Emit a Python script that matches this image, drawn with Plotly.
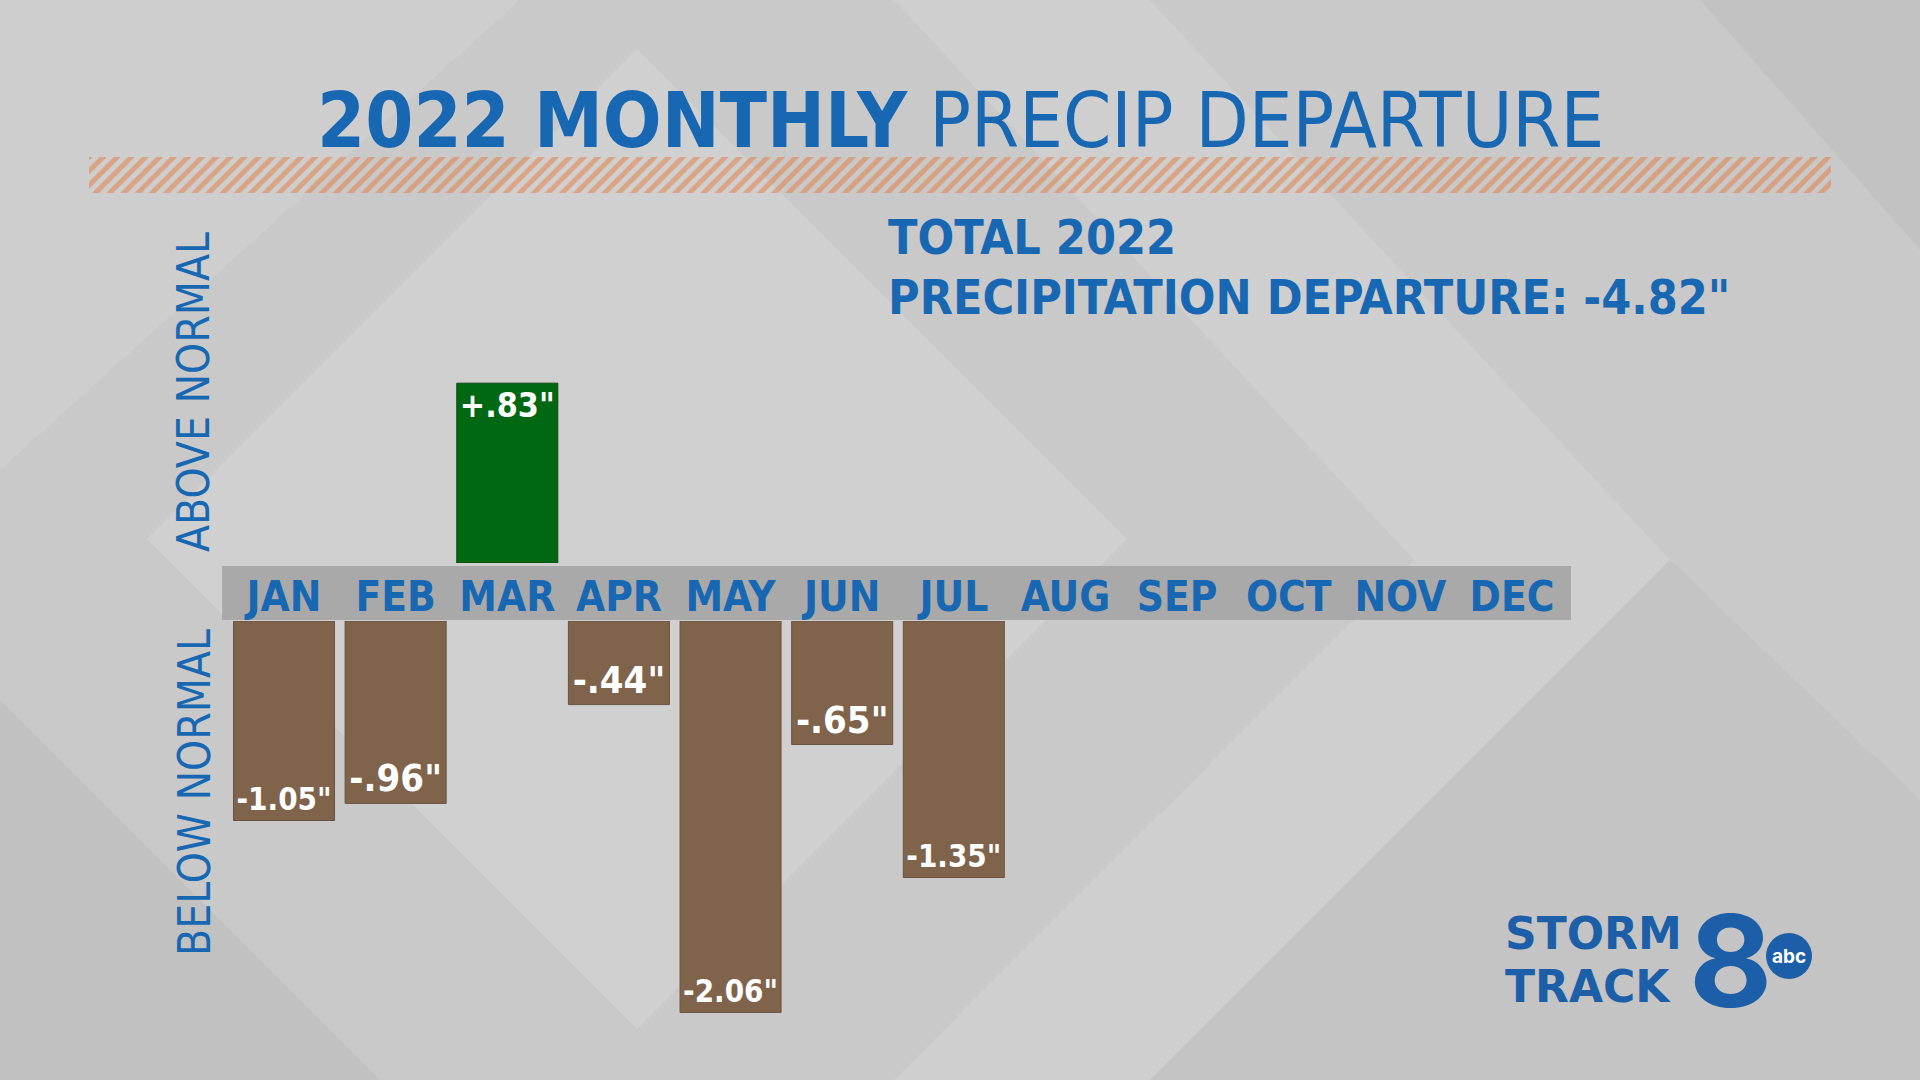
import plotly.graph_objects as go

# ---------------- data ----------------
months = ["JAN", "FEB", "MAR", "APR", "MAY", "JUN", "JUL", "AUG", "SEP", "OCT", "NOV", "DEC"]
departure = [-1.05, -0.96, 0.83, -0.44, -2.06, -0.65, -1.35, None, None, None, None, None]
total_departure = -4.82
title_bold = "2022 MONTHLY"
title_regular = "PRECIP DEPARTURE"
above_label = "ABOVE NORMAL"
below_label = "BELOW NORMAL"

# ---------------- style ----------------
W, H = 1920, 1080
BLUE = "#1767b3"
LOGO_BLUE = "#1c5ea8"
BROWN = "#80634b"
GREEN = "#006712"
BAND = "#a9a9a9"
ORANGE = "#e6773a"
NARROW = "'Liberation Sans Narrow', 'Arial Narrow', 'DejaVu Sans Condensed', 'Roboto', sans-serif"
LOGO = "'DejaVu Sans', Inter, Roboto, sans-serif"


def px(x):
    return x / W


def py(y):
    return 1 - y / H


def fmt(v):
    s = f"{abs(v):.2f}"
    if s.startswith("0"):
        s = s[1:]
    return ("+" if v > 0 else "-") + s + '"'


pos_vals = [v if (v is not None and v > 0) else None for v in departure]
neg_vals = [v if (v is not None and v < 0) else None for v in departure]
pos_text = [f"<b>{fmt(v)}</b>" if v is not None else "" for v in pos_vals]
neg_text = [f"<b>{fmt(v)}</b>" if v is not None else "" for v in neg_vals]

fig = go.Figure()

# positive departures (top panel)
fig.add_trace(go.Bar(
    x=months, y=pos_vals, text=pos_text, xaxis="x", yaxis="y",
    marker=dict(color=GREEN, line=dict(color="#0b4a12", width=1)),
    textposition="inside", insidetextanchor="end", textangle=0,
    insidetextfont=dict(color="white", size=38, family=NARROW),
    hoverinfo="skip", showlegend=False,
))

# negative departures (bottom panel)
fig.add_trace(go.Bar(
    x=months, y=neg_vals, text=neg_text, xaxis="x2", yaxis="y2",
    marker=dict(color=BROWN, line=dict(color="#6b5240", width=1)),
    textposition="inside", insidetextanchor="end", textangle=0,
    insidetextfont=dict(color="white", size=38, family=NARROW),
    hoverinfo="skip", showlegend=False,
))

# hatched orange stripe under the title
fig.add_trace(go.Bar(
    x=[1], y=[0], base=0, width=1, orientation="h", xaxis="x3", yaxis="y3",
    marker=dict(color="rgba(0,0,0,0)", line=dict(width=0),
                pattern=dict(shape="/", fgcolor=ORANGE, bgcolor="rgba(0,0,0,0)",
                             size=10, solidity=0.5)),
    hoverinfo="skip", showlegend=False,
))

xdom = [px(228.2), px(1567.8)]
hidden = dict(showgrid=False, zeroline=False, showline=False, showticklabels=False, ticks="")

fig.update_layout(
    width=W, height=H,
    margin=dict(l=0, r=0, t=0, b=0),
    paper_bgcolor="#c9c9c9",
    plot_bgcolor="rgba(0,0,0,0)",
    bargap=0.095,
    xaxis=dict(domain=xdom, anchor="y", type="category", range=[-0.5, 11.5], **hidden),
    yaxis=dict(domain=[py(563), py(303)], anchor="x", range=[0, 1.2], **hidden),
    xaxis2=dict(domain=xdom, anchor="free", position=py(634), type="category", range=[-0.5, 11.5],
                side="top", showgrid=False, zeroline=False, showline=False,
                ticks="outside", ticklen=6, tickcolor="rgba(0,0,0,0)",
                tickfont=dict(family=NARROW, size=42, color=BLUE, weight="bold"),
                fixedrange=True),
    yaxis2=dict(domain=[py(1058), py(621)], anchor="x2", range=[-2.3, 0], **hidden),
    xaxis3=dict(domain=[px(89), px(1831)], anchor="y3", range=[0, 1], **hidden),
    yaxis3=dict(domain=[py(193), py(157)], anchor="x3", range=[-0.5, 0.5], **hidden),
)


def poly(points):
    d = "M " + " L ".join(f"{px(x):.5f},{py(y):.5f}" for x, y in points) + " Z"
    return d


shapes = [
    # soft background chevrons
    dict(type="path", path=poly([(0, 0), (520, 0), (0, 470)]),
         fillcolor="rgba(255,255,255,0.10)", line=dict(width=0)),
    dict(type="path", path=poly([(147, 539), (637, 49), (1127, 539), (637, 1029)]),
         fillcolor="rgba(255,255,255,0.13)", line=dict(width=0)),
    dict(type="path", path=poly([(1150, 0), (1670, 560), (1150, 1080), (894, 1080), (1414, 560), (894, 0)]),
         fillcolor="rgba(255,255,255,0.11)", line=dict(width=0)),
    dict(type="path", path=poly([(1670, 560), (1150, 1080), (1920, 1080), (1920, 800)]),
         fillcolor="rgba(0,0,0,0.025)", line=dict(width=0)),
    dict(type="path", path=poly([(1500, 0), (1920, 0), (1920, 250), (1700, 0)]),
         fillcolor="rgba(0,0,0,0.03)", line=dict(width=0)),
    dict(type="path", path=poly([(0, 700), (380, 1080), (0, 1080)]),
         fillcolor="rgba(0,0,0,0.04)", line=dict(width=0)),
    # month band
    dict(type="rect", x0=px(222), x1=px(1571), y0=py(620), y1=py(566),
         fillcolor=BAND, line=dict(width=0)),
    # abc circle
    dict(type="circle", x0=px(1766), x1=px(1812), y0=py(979), y1=py(933),
         fillcolor=LOGO_BLUE, line=dict(width=0), layer="above"),
]
for s in shapes:
    s.setdefault("xref", "paper")
    s.setdefault("yref", "paper")
    s.setdefault("layer", "below")
fig.update_layout(shapes=shapes)

ann = []
ann.append(dict(x=px(960), y=py(120), text=f"<b>{title_bold}</b> {title_regular}",
                font=dict(family=NARROW, size=77, color=BLUE)))
ann.append(dict(x=px(886), y=py(237), text="<b>TOTAL 2022</b>", xanchor="left",
                font=dict(family=NARROW, size=48, color=BLUE)))
ann.append(dict(x=px(886), y=py(297),
                text=f"<b>PRECIPITATION DEPARTURE: {total_departure:.2f}\"</b>", xanchor="left",
                font=dict(family=NARROW, size=48, color=BLUE)))
ann.append(dict(x=px(194), y=py(392), text=above_label, textangle=-90,
                font=dict(family=NARROW, size=44, color=BLUE)))
ann.append(dict(x=px(194), y=py(793), text=below_label, textangle=-90,
                font=dict(family=NARROW, size=44, color=BLUE)))
# logo
ann.append(dict(x=px(1503), y=py(933), text="<b>STORM</b>", xanchor="left",
                font=dict(family=LOGO, size=44, color=LOGO_BLUE)))
ann.append(dict(x=px(1503), y=py(986), text="<b>TRACK</b>", xanchor="left",
                font=dict(family=LOGO, size=44, color=LOGO_BLUE)))
ann.append(dict(x=px(1730), y=py(960), text="<b>8</b>",
                font=dict(family="Inter, Roboto, sans-serif", size=128, color=LOGO_BLUE)))
ann.append(dict(x=px(1789), y=py(956), text="<b>abc</b>",
                font=dict(family="Inter, Roboto, sans-serif", size=19, color="white")))
for a in ann:
    a.update(xref="paper", yref="paper", showarrow=False)
    a.setdefault("xanchor", "center")
    a.setdefault("yanchor", "middle")
fig.update_layout(annotations=ann)

fig.write_html("out.html")
